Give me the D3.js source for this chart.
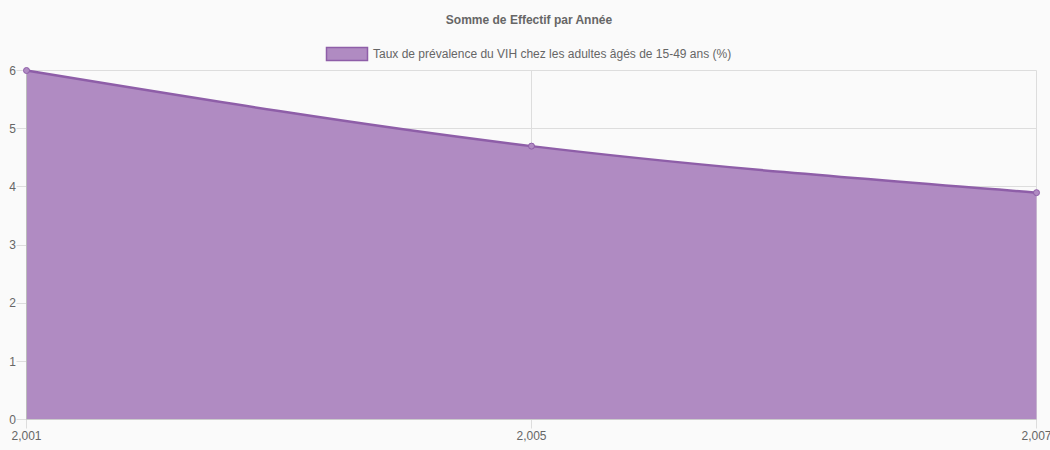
<!DOCTYPE html>
<html>
<head>
<meta charset="utf-8">
<script src="https://cdn.jsdelivr.net/npm/d3@7"></script>
<style>
  body { margin: 0; background: #fafafa; }
  svg { display: block; font-family: "Liberation Sans", Arial, sans-serif; }
</style>
</head>
<body>
<svg id="chart" width="1050" height="450"></svg>
<script>
// data
var years = [2001, 2005, 2007];
var values = [6, 4.7, 3.9];
var yTicks = [0, 1, 2, 3, 4, 5, 6];
var seriesName = "Taux de prévalence du VIH chez les adultes âgés de 15-49 ans (%)";
var chartTitle = "Somme de Effectif par Année";

var fillColor = "#b08bc2",
	lineColor = "#8e5ea8",
	textColor = "#666";

var svg = d3.select("#chart");
// note: "top" is a read-only window global, so use plot* names
var plotLeft = 26.5, plotRight = 1036.5, plotTop = 70.5, plotBottom = 419.5;

// category axis, evenly spaced
var x = d3.scalePoint().domain(years).range([plotLeft, plotRight]);
var y = d3.scaleLinear().domain([0, 6]).range([plotBottom, plotTop]);

var fmt = d3.format(",");

// gridlines
svg.append("g").selectAll("line")
	.data(yTicks)
	.enter().append("line")
	.attr("x1", plotLeft - 10).attr("x2", plotRight)
	.attr("y1", function(d){ return Math.round(y(d) - 0.5) + 0.5; })
	.attr("y2", function(d){ return Math.round(y(d) - 0.5) + 0.5; })
	.attr("stroke", "#ddd");

svg.append("g").selectAll("line")
	.data(years)
	.enter().append("line")
	.attr("x1", function(d){ return x(d); })
	.attr("x2", function(d){ return x(d); })
	.attr("y1", plotTop).attr("y2", plotBottom + 9)
	.attr("stroke", "#ddd");

// area + line
var pts = years.map(function(d, i){ return [d, values[i]]; });

var area = d3.area()
	.x(function(d){ return x(d[0]); })
	.y0(y(0))
	.y1(function(d){ return y(d[1]); })
	.curve(d3.curveMonotoneX);

var line = d3.line()
	.x(function(d){ return x(d[0]); })
	.y(function(d){ return y(d[1]); })
	.curve(d3.curveMonotoneX);

svg.append("path").datum(pts)
	.attr("d", area)
	.attr("fill", fillColor);

// axis lines
svg.append("line")
	.attr("x1", plotLeft).attr("x2", plotLeft).attr("y1", plotTop).attr("y2", plotBottom)
	.attr("stroke", "#bbb");
svg.append("line")
	.attr("x1", plotLeft).attr("x2", plotRight).attr("y1", plotBottom).attr("y2", plotBottom)
	.attr("stroke", "#ccc");

svg.append("path").datum(pts)
	.attr("d", line)
	.attr("fill", "none")
	.attr("stroke", lineColor)
	.attr("stroke-width", 2.5);

svg.append("g").selectAll("circle")
	.data(pts)
	.enter().append("circle")
	.attr("cx", function(d){ return x(d[0]); })
	.attr("cy", function(d){ return y(d[1]); })
	.attr("r", 3)
	.attr("fill", fillColor)
	.attr("stroke", lineColor)
	.attr("stroke-width", 1);

// tick labels
svg.append("g").selectAll("text")
	.data(yTicks)
	.enter().append("text")
	.attr("x", 16)
	.attr("y", function(d){ return y(d); })
	.attr("dy", "0.35em")
	.attr("text-anchor", "end")
	.attr("font-size", 12)
	.attr("fill", textColor)
	.text(function(d){ return d; });

svg.append("g").selectAll("text")
	.data(years)
	.enter().append("text")
	.attr("x", function(d){ return x(d); })
	.attr("y", 436)
	.attr("dy", "0.35em")
	.attr("text-anchor", "middle")
	.attr("font-size", 12)
	.attr("fill", textColor)
	.text(function(d){ return fmt(d); });

// title
svg.append("text")
	.attr("x", 529).attr("y", 20)
	.attr("dy", "0.35em")
	.attr("text-anchor", "middle")
	.attr("font-size", 12)
	.attr("font-weight", "bold")
	.attr("fill", textColor)
	.text(chartTitle);

// legend
svg.append("rect")
	.attr("x", 326.5).attr("y", 47.5)
	.attr("width", 41).attr("height", 13)
	.attr("fill", fillColor)
	.attr("stroke", lineColor)
	.attr("stroke-width", 1.5);

svg.append("text")
	.attr("x", 373).attr("y", 54)
	.attr("dy", "0.35em")
	.attr("font-size", 12)
	.attr("fill", textColor)
	.text(seriesName);
</script>
</body>
</html>
